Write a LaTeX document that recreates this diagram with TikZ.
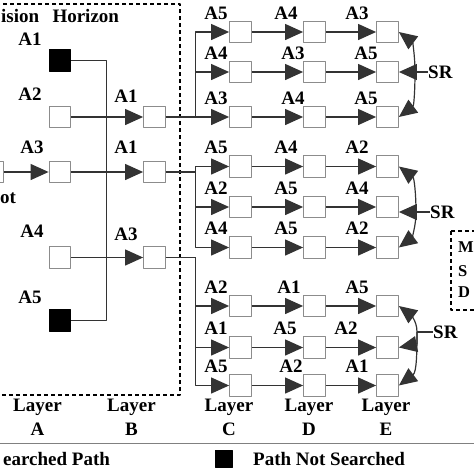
\documentclass[tikz,border=0pt]{standalone}
\usepackage{fontspec}
\setmainfont{Liberation Serif}
\usetikzlibrary{arrows.meta,positioning,calc}

\begin{document}
\begin{tikzpicture}[x=1pt,y=1pt,line join=round,
	every node/.style={font=\bfseries\fontsize{19}{24}\selectfont,inner sep=0pt},
	sq/.style={draw=black!45,fill=white,line width=1.3pt,minimum size=21.5pt},
	blk/.style={sq,draw=black,fill=black},
	ln/.style={line width=1.2pt,draw=black!80},
	arr/.style={ln,-{Triangle[length=18pt,width=16pt]}},
	hz/.style={line width=1.3pt,dash pattern=on 4pt off 3pt},
	side/.style={anchor=west,font=\bfseries\fontsize{16.5}{20}\selectfont}]
	\useasboundingbox (0,0) rectangle (474,-474);
	% decision horizon
	\draw[hz] (-20,-4) rectangle (180,-395);
	\node[anchor=base west] (dh) at (1,-22) {ision\hspace{0.7em}Horizon};
	% layer A and B
	\node[sq] (root) at (-7.5,-172) {};
	\node[anchor=base west] (rt) at (0,-203) {ot};
	\node[blk] (a1) at (60,-60.5) {};
	\node[sq] (a2) at (60,-117) {};
	\node[sq] (a3) at (60,-172) {};
	\node[sq] (a4) at (60,-257.5) {};
	\node[blk] (a5) at (60,-320.5) {};
	\node[sq] (b1) at (154.5,-117) {};
	\node[sq] (b2) at (154.5,-172) {};
	\node[sq] (b3) at (154.5,-257.5) {};
	\node at (30,-39) {A1};
	\node at (30,-94) {A2};
	\node at (32,-147.5) {A3};
	\node at (32,-231.5) {A4};
	\node at (30,-297) {A5};
	\node at (126,-96) {A1};
	\node at (126,-147.5) {A1};
	\node at (126,-234) {A3};
	\draw[arr] (root) -- (a3);
	\draw[ln] (a1.east) -- ++(35,0) |- (a5.east);
	\draw[arr] (a2) -- (b1);
	\draw[arr] (a3) -- (b2);
	\draw[arr] (a4) -- (b3);
	% layers C, D, E
	\foreach \n/\y/\lc/\ld/\le/\xd/\xe in {1/32/A5/A4/A3/286/357,2/72/A4/A3/A5/293/366,
		3/117/A3/A4/A5/293/366,4/166.5/A5/A4/A2/286/357,5/207/A2/A5/A4/286/357,
		6/247.5/A4/A5/A2/286/357,7/306/A2/A1/A5/289/357,8/347.5/A1/A5/A2/285/346,
		9/385.5/A5/A2/A1/291/357}{
		\node[sq] (c\n) at (240.5,-\y) {};
		\node[sq] (d\n) at (314.5,-\y) {};
		\node[sq] (e\n) at (387.5,-\y) {};
		\draw[arr] (c\n) -- (d\n);
		\draw[arr] (d\n) -- (e\n);
		\node at (216,-\y+19) {\lc};
		\node at (\xd,-\y+19) {\ld};
		\node at (\xe,-\y+19) {\le};
	}
	\foreach \n in {1,2,3} \draw[arr] (b1.east) -- ++(29.5,0) |- (c\n.west);
	\foreach \n in {4,5,6} \draw[arr] (b2.east) -- ++(29.5,0) |- (c\n.west);
	\foreach \n in {7,8,9} \draw[arr] (b3.east) -- ++(29.5,0) |- (c\n.west);
	% SR
	\coordinate (j1) at (415,-72);
	\node[anchor=west] (sr1) at (428,-72) {SR};
	\draw[ln] (j1) -- (sr1.west);
	\draw[arr] (j1) to[out=90,in=-37] (e1.east);
	\draw[arr] (j1) -- (e2.east);
	\draw[arr] (j1) to[out=-90,in=37] (e3.east);
	\coordinate (j2) at (416,-212);
	\node[anchor=west] (sr2) at (430,-212) {SR};
	\draw[ln] (j2) -- (sr2.west);
	\draw[arr] (j2) to[out=90,in=-37] (e4.east);
	\draw[arr] (j2) -- (j2 -| e5.east);
	\draw[arr] (j2) to[out=-90,in=37] (e6.east);
	\coordinate (j3) at (417,-332);
	\node[anchor=west] (sr3) at (433,-332) {SR};
	\draw[ln] (j3) -- (sr3.west);
	\draw[arr] (j3) to[out=90,in=-37] (e7.east);
	\draw[arr] (j3) -- ++(0,-12) -- (e8.east);
	\draw[arr] (j3) to[out=-90,in=37] (e9.east);
	% side box
	\draw[hz] (451,-231) rectangle (500,-310);
	\node[side] (m) at (458,-247.5) {M};
	\node[side] (s) at (458,-271) {S};
	\node[side] (d) at (458,-292) {D};
	% layer names
	\node[align=center,anchor=north] (la) at (37.5,-399) {Layer\\A};
	\node[align=center,anchor=north] (lb) at (131.5,-399) {Layer\\B};
	\node[align=center,anchor=north] (lc) at (229,-399) {Layer\\C};
	\node[align=center,anchor=north] (ld) at (309,-399) {Layer\\D};
	\node[align=center,anchor=north] (le) at (386,-399) {Layer\\E};
	% legend
	\draw[line width=1pt,draw=black!50] (0,-443) -- (474,-443);
	\node[anchor=base west] (sp) at (3,-465) {earched Path};
	\node[blk,minimum size=16.5pt] (ns) at (224,-459) {};
	\node[anchor=base west] (pns) at (253,-465) {Path Not Searched};
\end{tikzpicture}
\end{document}
